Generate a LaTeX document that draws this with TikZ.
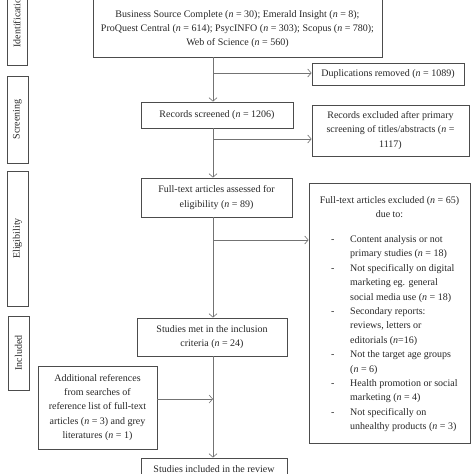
\documentclass[tikz,border=0pt]{standalone}
\usepackage{fontspec}
\setmainfont{Liberation Serif}
\usetikzlibrary{arrows.meta}
\begin{document}
\begin{tikzpicture}[x=1pt,y=-1pt,
  font=\fontsize{10}{14.4}\selectfont,
  box/.style={draw=black!70, line width=0.8pt, inner sep=0pt, align=center, text=black!85},
  txt/.style={align=center, inner sep=0pt, text=black!85},
  arr/.style={draw=black!55, line width=0.6pt, -{Straight Barb[length=3.5pt,width=8pt]}},
  phase/.style={draw=black!70, line width=0.8pt, inner sep=0pt, rotate=90, text=black!85}]
\useasboundingbox (0,0) rectangle (474,474);
% phase labels
\node[phase, minimum width=93pt, minimum height=20pt] (p1) at (17,18.5) {};
\node[inner sep=0pt, rotate=90, text=black!85] (p1txt) at (17,20.5) {Identification};
\node[phase, minimum width=87pt, minimum height=21pt] (p2) at (17.5,119.5) {Screening};
\node[phase, minimum width=135pt, minimum height=21pt] (p3) at (17.5,238.5) {Eligibility};
\node[phase, minimum width=74pt, minimum height=21pt] (p4) at (18.5,353) {Included};
% main boxes
\node[box, minimum width=289pt, minimum height=85pt] (search) at (237.5,14.5) {};
\node[txt] (searchtxt) at (237.5,29) {Business Source Complete (\textit{n} = 30); Emerald Insight (\textit{n} = 8);\\ProQuest Central (\textit{n} = 614); PsycINFO (\textit{n} = 303); Scopus (\textit{n} = 780);\\Web of Science (\textit{n} = 560)};
\node[box, minimum width=152pt, minimum height=22pt] (dup) at (388,74) {Duplications removed (\textit{n} = 1089)};
\node[box, minimum width=152pt, minimum height=26pt] (screened) at (217,115) {Records screened (\textit{n} = 1206)};
\node[box, minimum width=157pt, minimum height=51pt] (excl1) at (390.5,130.5) {Records excluded after primary\\screening of titles/abstracts (\textit{n} =\\1117)};
\node[box, minimum width=151pt, minimum height=39pt] (fulltext) at (216.5,197.5) {Full-text articles assessed for\\eligibility (\textit{n} = 89)};
\node[box, minimum width=161pt, minimum height=260pt] (excl2) at (389.5,313) {};
\node[txt] (excl2head) at (389.5,207) {Full-text articles excluded (\textit{n} = 65)\\due to:};
\node[inner sep=0pt, anchor=base west, text=black!85] (excl2list) at (331,242.5) {\begin{tabular}[t]{@{}p{19pt}@{}l@{}}
- & Content analysis or not\\
 & primary studies (\textit{n} = 18)\\
- & Not specifically on digital\\
 & marketing eg. general\\
 & social media use (\textit{n} = 18)\\
- & Secondary reports:\\
 & reviews, letters or\\
 & editorials (\textit{n}=16)\\
- & Not the target age groups\\
 & (\textit{n} = 6)\\
- & Health promotion or social\\
 & marketing (\textit{n} = 4)\\
- & Not specifically on\\
 & unhealthy products (\textit{n} = 3)
\end{tabular}};
\node[box, minimum width=150pt, minimum height=38pt] (met) at (212,337) {Studies met in the inclusion\\criteria (\textit{n} = 24)};
\node[box, minimum width=119pt, minimum height=83pt] (addl) at (97.5,407.5) {Additional references\\from searches of\\reference list of full-text\\articles (\textit{n} = 3) and grey\\literatures (\textit{n} = 1)};
\node[box, minimum width=146pt, minimum height=40pt] (incl) at (214,478) {};
\node[txt] (incltxt) at (214,469) {Studies included in the review};
% connectors
\coordinate (j1) at (213,73);
\coordinate (j2) at (213,139);
\coordinate (j3) at (213,240);
\coordinate (j4) at (213,399);
\draw[arr] (search.south -| j1) -- (screened.north -| j1);
\draw[arr] (j1) -- (dup.west |- j1);
\draw[arr] (screened.south -| j2) -- (fulltext.north -| j2);
\draw[arr] (j2) -- (excl1.west |- j2);
\draw[arr] (fulltext.south -| j3) -- (met.north -| j3);
\draw[arr] (j3) -- (excl2.west |- j3);
\draw[arr] (met.south -| j4) -- (incl.north -| j4);
\draw[arr] (addl.east |- j4) -- (j4);
\end{tikzpicture}
\end{document}
